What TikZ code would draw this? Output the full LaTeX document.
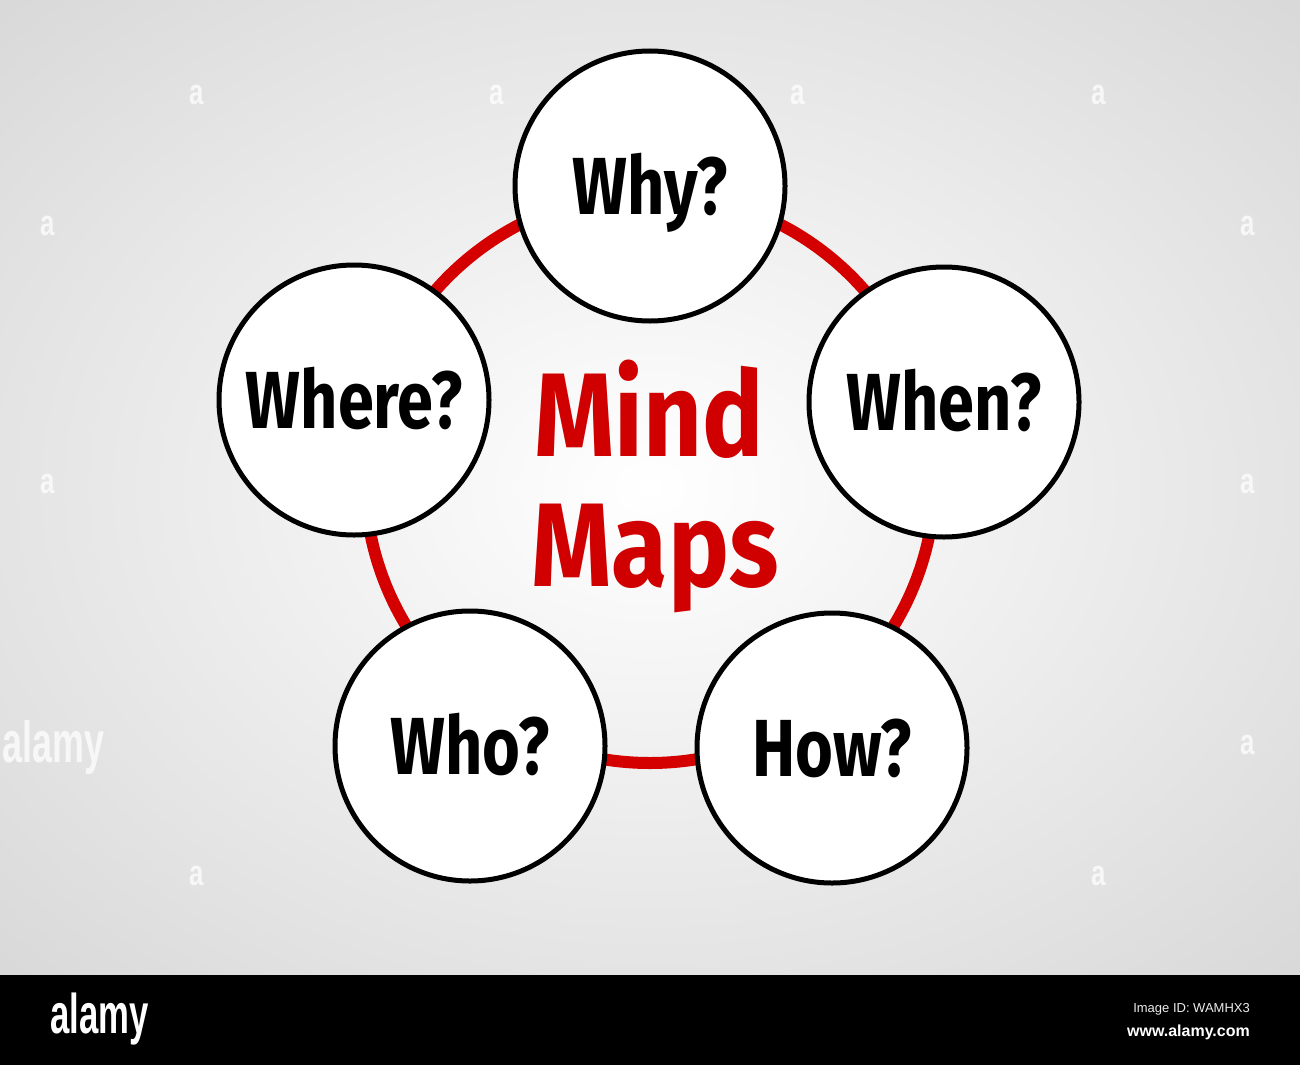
\documentclass[tikz,border=0pt]{standalone}
\usepackage{fontspec}
\setmainfont{Liberation Sans}
\newfontfamily\handfont[FakeStretch=0.8]{Fira Sans}
\newfontfamily\titlefont[FakeStretch=0.86]{Fira Sans}
\newfontfamily\wmfont[FakeStretch=0.72]{Liberation Sans}
\newfontfamily\logofont[FakeStretch=0.62]{Liberation Sans}
\definecolor{ringred}{HTML}{D40000}
\definecolor{txtred}{HTML}{D00000}
\begin{document}
\begin{tikzpicture}[x=1pt,y=-1pt,
  bubble/.style={circle, draw=black, line width=5pt, fill=white,
    minimum size=270pt, inner sep=0pt, text height=56pt, text depth=0pt,
    font=\handfont\bfseries\fontsize{81}{81}\selectfont},
  ringnode/.style={circle, draw=ringred, line width=12pt, minimum size=570pt, inner sep=0pt},
  titletext/.style={text=txtred, text height=82pt, text depth=0pt, inner sep=0pt,
    font=\titlefont\bfseries\fontsize{119}{119}\selectfont},
  wm/.style={text=white, opacity=0.75, inner sep=0pt,
    font=\wmfont\bfseries\fontsize{36}{36}\selectfont},
]
\useasboundingbox (0,0) rectangle (1300,1065);
% background
\begin{scope}
  \clip (0,0) rectangle (1300,975);
  \shade[inner color=white, outer color=gray!32] (-325,-244) rectangle (1625,1219);
\end{scope}
% watermarks
\foreach \px/\py [count=\i] in {197/95, 497/95, 798/95, 1099/95, 48/226, 1248/226, 48/484, 1248/484, 1248/745, 197/876, 1099/876}
  \node[wm] (wm\i) at (\px,\py) {a};
\node[wm, anchor=base west, font=\logofont\bfseries\fontsize{58}{58}\selectfont] (wmlogo) at (2,762) {alamy};
% red ring
\node[ringnode] (ring) at (650,478) {};
% bubbles
\node[bubble] (why)   at (650,186) {Why?};
\node[bubble] (where) at (354,400) {Where?};
\node[bubble] (when)  at (944,402) {When?};
\node[bubble] (who)   at (470,746) {Who?};
\node[bubble] (how)   at (832,748) {How?};
% title
\node[titletext] (mind) at (649,415) {Mind};
\node[titletext] (maps) at (655,545) {Maps};
% bottom bar
\fill[black] (0,975) rectangle (1300,1065);
\node[anchor=base west, text=white, inner sep=0pt,
  font=\logofont\bfseries\fontsize{56}{56}\selectfont] (logo) at (50,1033) {alamy};
\node[anchor=base east, text=gray!15, inner sep=0pt,
  font=\fontsize{13}{13}\selectfont] (imgid) at (1250,1012) {Image ID: WAMHX3};
\node[anchor=base east, text=white, inner sep=0pt,
  font=\bfseries\fontsize{16}{16}\selectfont] (www) at (1250,1036) {www.alamy.com};
\end{tikzpicture}
\end{document}
